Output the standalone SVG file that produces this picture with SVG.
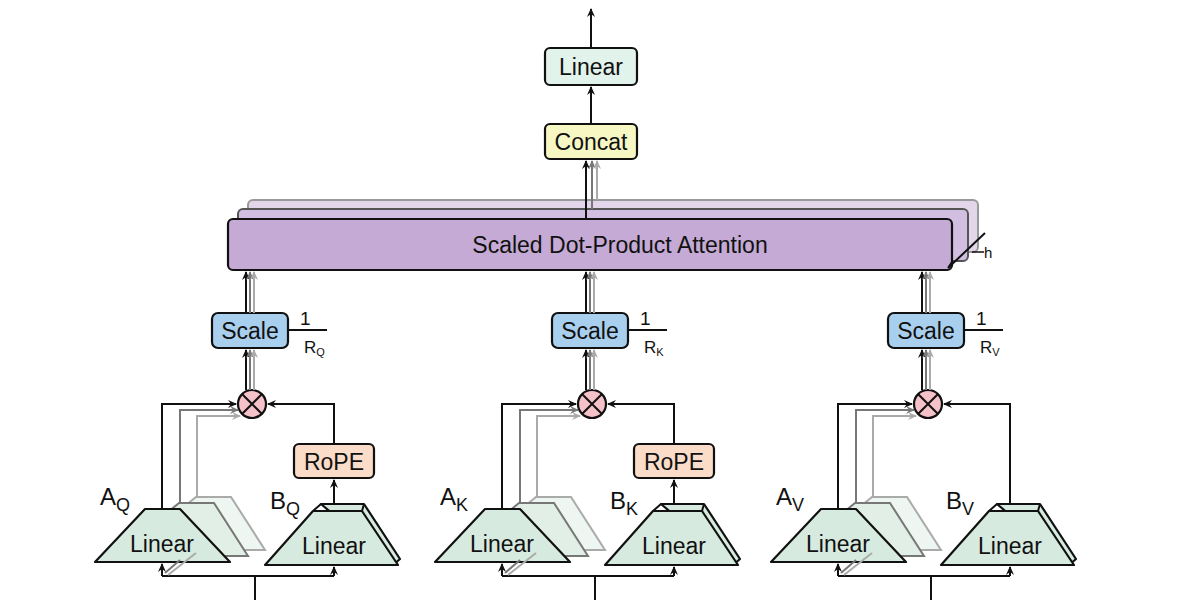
<svg xmlns="http://www.w3.org/2000/svg" width="1200" height="600" viewBox="0 0 1200 600">
<defs>
<marker id="a" markerWidth="10" markerHeight="10" refX="8" refY="5" orient="auto" markerUnits="userSpaceOnUse"><path d="M0,1 L9,5 L0,9 L3,5 Z" fill="#111"/></marker>
<marker id="g" markerWidth="10" markerHeight="10" refX="8" refY="5" orient="auto" markerUnits="userSpaceOnUse"><path d="M0,1 L9,5 L0,9 L3,5 Z" fill="#777"/></marker>
<marker id="l" markerWidth="10" markerHeight="10" refX="8" refY="5" orient="auto" markerUnits="userSpaceOnUse"><path d="M0,1 L9,5 L0,9 L3,5 Z" fill="#aaa"/></marker>
<g id="col">
<g id="lin-a-back">
<path d="M196,497 L231,497 L265,550 L131,550 Z" fill="#eef6f1" stroke="#aaa" stroke-width="2"/>
<path d="M179,503 L214,503 L248,556 L114,556 Z" fill="#e2efe7" stroke="#777" stroke-width="2"/>
</g>
<g id="lin-a"><path d="M145,509 L180,509 L230,562 L95,562 Z" class="lin"/><text x="162" y="552" class="t">Linear</text></g>
<g id="lin-b"><path d="M321,504 L364,504 L400,559 L393,565 Z" class="lin"/><path d="M313,511 L362,511 L398,565 L265,565 Z" class="lin"/><path d="M313,511 L321,504 M362,511 L364,504" stroke="#111" stroke-width="2"/><text x="334" y="554" class="t">Linear</text></g>
<g id="mul"><circle cx="252" cy="404" r="14" fill="#f4c2c8" class="box"/><path d="M242,394 L262,414 M262,394 L242,414" stroke="#111" stroke-width="2"/></g>
<g id="scale"><rect x="212" y="313" width="76" height="35" rx="6" fill="#a8cfee" class="box"/><text x="250" y="339" class="t">Scale</text></g>
<text x="300" y="325" class="t" style="font-size:19px;text-anchor:start">1</text>
<path d="M289,330 L327,330" stroke="#111" stroke-width="2"/>
<g fill="none" stroke-width="2">
<path d="M255,600 L255,576 M162,576 L334,576" stroke="#111"/>
<path d="M162,576 L162,564" stroke="#111" marker-end="url(#a)"/>
<path d="M334,576 L334,567" stroke="#111" marker-end="url(#a)"/>
<path d="M165,573 L180,560" stroke="#777"/><path d="M168,575 L196,553" stroke="#aaa"/>
<path d="M162,509 L162,404 L236,404" stroke="#111" marker-end="url(#a)"/>
<path d="M180,503 L180,410 L238,410" stroke="#777" marker-end="url(#g)"/>
<path d="M197,497 L197,416 L240,416" stroke="#aaa" marker-end="url(#l)"/>
<path d="M246,390 L246,350" stroke="#111" marker-end="url(#a)"/>
<path d="M250,390 L250,350" stroke="#777" marker-end="url(#g)"/>
<path d="M254,390 L254,350" stroke="#aaa" marker-end="url(#l)"/>
<path d="M246,313 L246,272" stroke="#111" marker-end="url(#a)"/>
<path d="M250,313 L250,272" stroke="#777" marker-end="url(#g)"/>
<path d="M254,313 L254,272" stroke="#aaa" marker-end="url(#l)"/>
</g>
</g>
<g id="rope">
<rect x="294" y="444" width="80" height="34" rx="5" fill="#fbdcc8" class="box"/><text x="334" y="470" class="t">RoPE</text>
<path d="M334,504 L334,480" stroke="#111" stroke-width="2" fill="none" marker-end="url(#a)"/>
<path d="M334,444 L334,404 L268,404" stroke="#111" stroke-width="2" fill="none" marker-end="url(#a)"/>
</g>
</defs>
<style>
.t{font-family:"Liberation Sans",Arial,sans-serif;font-size:23px;fill:#111;text-anchor:middle}
.s{font-family:"Liberation Sans",Arial,sans-serif;fill:#111}
.box{stroke:#111;stroke-width:2.2}
.lin{fill:#d6eadf;stroke:#111;stroke-width:2.2;stroke-linejoin:round}
</style>
<rect width="1200" height="600" fill="#fff"/>
<g id="sdpa">
<rect x="248" y="200" width="730" height="52" rx="5" fill="#e3d6ea" stroke="#999" stroke-width="2"/>
<rect x="238" y="209" width="730" height="52" rx="5" fill="#d2bee0" stroke="#555" stroke-width="2"/>
<rect x="228" y="219" width="724" height="51" rx="5" fill="#c4aad4" class="box"/>
<text x="620" y="253" class="t">Scaled Dot-Product Attention</text>
<path d="M948,268 L985,233 M948,268 L952,262" stroke="#111" stroke-width="2" fill="none"/>
<path d="M972,252 L984,252" stroke="#111" stroke-width="1.5"/>
<text x="984" y="258" class="s" font-size="15">h</text>
</g>
<g id="concat"><rect x="545" y="124" width="92" height="35" rx="5" fill="#f7f7c4" class="box"/><text x="591" y="150" class="t">Concat</text></g>
<g id="linear-out"><rect x="545" y="48" width="92" height="37" rx="5" fill="#e1f3ea" class="box"/><text x="591" y="75" class="t">Linear</text></g>
<g id="connectors" fill="none" stroke-width="2">
<path d="M586,219 L586,161" stroke="#111" marker-end="url(#a)"/>
<path d="M592,209 L592,161" stroke="#777" marker-end="url(#g)"/>
<path d="M597,200 L597,161" stroke="#aaa" marker-end="url(#l)"/>
<path d="M591,124 L591,87" stroke="#111" marker-end="url(#a)"/>
<path d="M591,48 L591,9" stroke="#111" marker-end="url(#a)"/>
</g>
<g id="col-q"><use href="#col"/><use href="#rope"/>
<text x="100" y="505" class="s" font-size="24">A<tspan font-size="18" dy="6">Q</tspan></text>
<text x="270" y="509" class="s" font-size="24">B<tspan font-size="18" dy="6">Q</tspan></text>
<text x="304" y="353" class="s" font-size="17">R<tspan font-size="11" dy="3">Q</tspan></text>
</g>
<g id="col-k" transform="translate(340,0)"><use href="#col"/><use href="#rope"/>
<text x="100" y="505" class="s" font-size="24">A<tspan font-size="18" dy="6">K</tspan></text>
<text x="270" y="509" class="s" font-size="24">B<tspan font-size="18" dy="6">K</tspan></text>
<text x="304" y="353" class="s" font-size="17">R<tspan font-size="11" dy="3">K</tspan></text>
</g>
<g id="col-v" transform="translate(676,0)"><use href="#col"/>
<path d="M334,504 L334,404 L268,404" stroke="#111" stroke-width="2" fill="none" marker-end="url(#a)"/>
<text x="100" y="505" class="s" font-size="24">A<tspan font-size="18" dy="6">V</tspan></text>
<text x="270" y="509" class="s" font-size="24">B<tspan font-size="18" dy="6">V</tspan></text>
<text x="304" y="353" class="s" font-size="17">R<tspan font-size="11" dy="3">V</tspan></text>
</g>
</svg>
